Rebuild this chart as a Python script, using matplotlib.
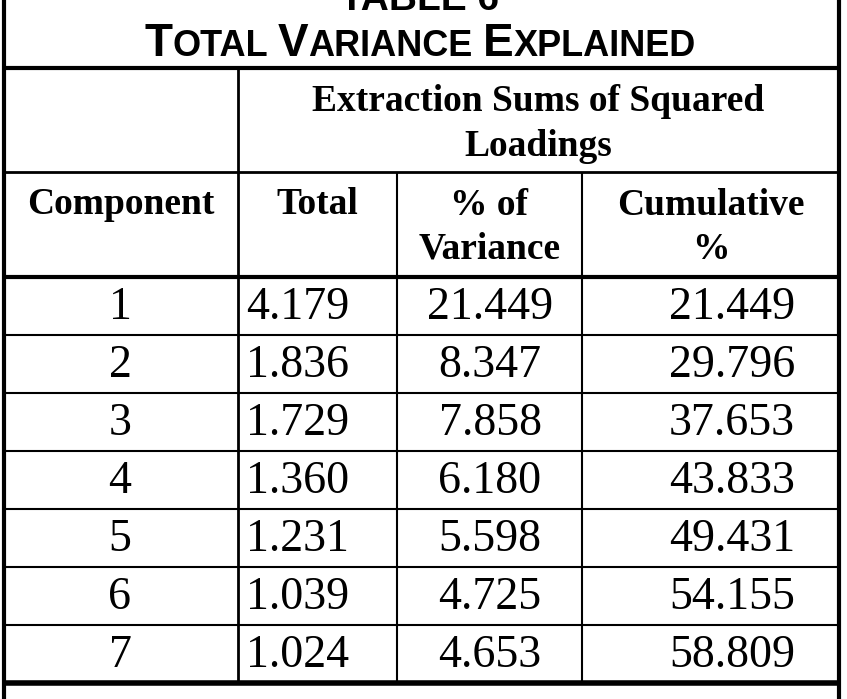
import matplotlib
matplotlib.use("Agg")
import matplotlib.pyplot as plt
from matplotlib.lines import Line2D

components = ["1", "2", "3", "4", "5", "6", "7"]
totals = ["4.179", "1.836", "1.729", "1.360", "1.231", "1.039", "1.024"]
pct_var = ["21.449", "8.347", "7.858", "6.180", "5.598", "4.725", "4.653"]
cumulative = ["21.449", "29.796", "37.653", "43.833", "49.431", "54.155", "58.809"]

W, H = 847, 699
fig = plt.figure(figsize=(W/100, H/100), dpi=100)
ax = fig.add_axes([0, 0, 1, 1])
ax.set_xlim(0, W); ax.set_ylim(H, 0); ax.axis("off")

def hl(y, x0, x1, lw):
    ax.add_line(Line2D([x0, x1], [y, y], color="black", lw=lw, solid_capstyle="butt"))
def vl(x, y0, y1, lw):
    ax.add_line(Line2D([x, x], [y0, y1], color="black", lw=lw, solid_capstyle="butt"))

L, R = 4, 839
cols = [L, 238, 397, 582, R]
yt, yh1, yh2, yd = 68, 172, 277, 683
rowh = (yd - yh2) / 7

vl(L, 0, H, 3); vl(R, 0, H, 3)
hl(yt, L, R, 3); hl(yh1, cols[1], R, 2); hl(yh1, L, cols[1], 2)
hl(yh2, L, R, 3); hl(yd, L, R, 4)
vl(cols[1], yt, yd, 2)
for c in cols[2:4]:
    vl(c, yh1, yd, 1.5)
for i in range(1, 7):
    hl(yh2 + i * rowh, L, R, 1.5)

serif = "Liberation Serif"
sans = "Liberation Sans"

def smallcaps(text, xc, y, big, small):
    r = fig.canvas.get_renderer()
    parts = []
    for word in text.split(" "):
        parts.append((word[0], big)); parts.append((word[1:], small)); parts.append((" ", small))
    parts = parts[:-1]
    tmp = []
    widths = []
    for s, fs in parts:
        t = ax.text(0, y, s.upper() if s != " " else "\u00a0", fontsize=fs, fontweight="bold",
                    family=sans, va="baseline", ha="left")
        widths.append(t.get_window_extent(r).width); tmp.append(t)
    total = sum(widths)
    x = xc - total / 2
    for t, w in zip(tmp, widths):
        t.set_x(x); x += w

smallcaps("Total Variance Explained", 420, 56, 33, 26)
ax.text(420, 0, "TABLE 6", fontsize=28, fontweight="bold", family=sans, ha="center", va="center")

ax.text((cols[1] + R) / 2, 124, "Extraction Sums of Squared\nLoadings", fontsize=27, fontweight="bold",
        family=serif, ha="center", va="center", linespacing=1.4)
hy = (yh1 + yh2) / 2 + 3
ax.text((L + cols[1]) / 2, 204, "Component", fontsize=27, fontweight="bold", family=serif, ha="center", va="center")
ax.text((cols[1] + cols[2]) / 2, 204, "Total", fontsize=27, fontweight="bold", family=serif, ha="center", va="center")
ax.text((cols[2] + cols[3]) / 2, hy, "% of\nVariance", fontsize=27, fontweight="bold", family=serif,
        ha="center", va="center", linespacing=1.3)
ax.text((cols[3] + R) / 2, hy, "Cumulative\n%", fontsize=27, fontweight="bold", family=serif,
        ha="center", va="center", linespacing=1.3)

for i in range(7):
    y = yh2 + (i + 0.5) * rowh + 2
    ax.text(120, y, components[i], fontsize=33, family=serif, ha="center", va="center")
    ax.text(246, y, totals[i], fontsize=33, family=serif, ha="left", va="center")
    ax.text(490, y, pct_var[i], fontsize=33, family=serif, ha="center", va="center")
    ax.text(795, y, cumulative[i], fontsize=33, family=serif, ha="right", va="center")

fig.savefig("out.png", dpi=100)
